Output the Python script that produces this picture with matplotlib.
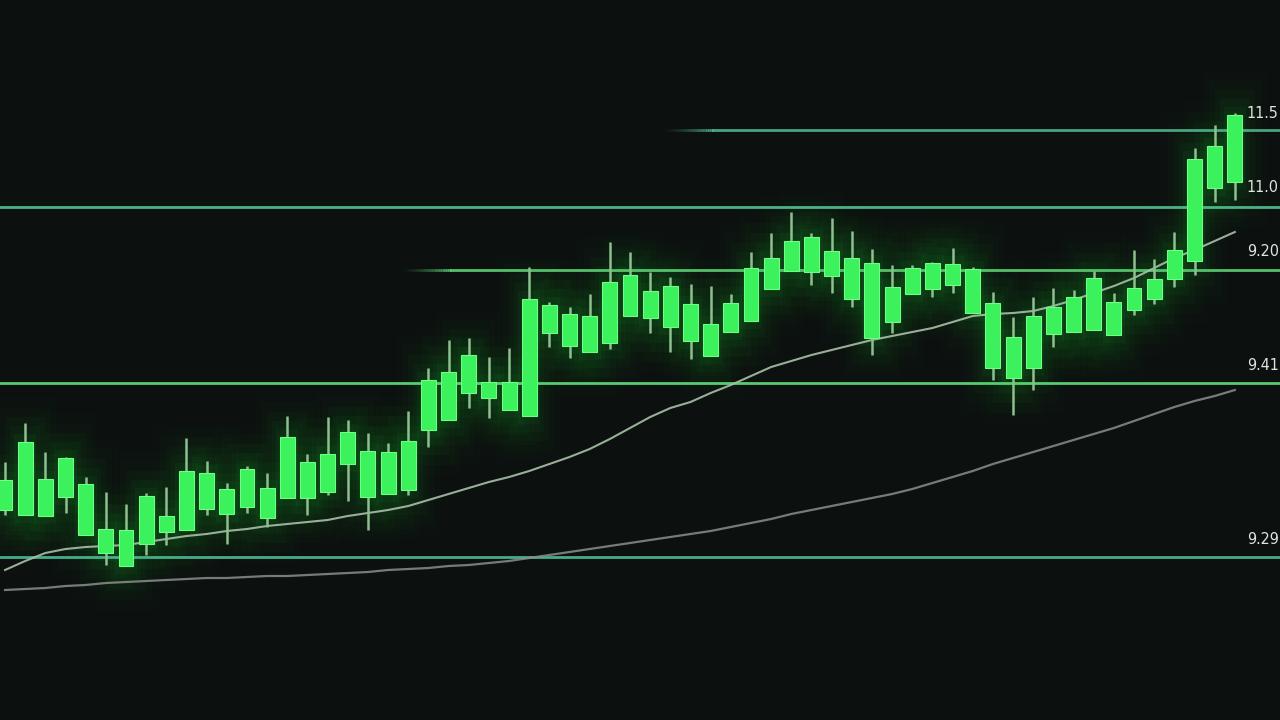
import numpy as np
import matplotlib
matplotlib.use("Agg")
import matplotlib.pyplot as plt
from matplotlib.collections import LineCollection
from matplotlib.colors import to_rgba

# candle data (one bar per session, all bullish)
high = [8.38, 8.77, 8.48, 8.43, 8.23, 8.08, 7.96, 8.07, 8.13, 8.62,
        8.39, 8.17, 8.34, 8.27, 8.84, 8.46, 8.83, 8.80, 8.67, 8.57,
        8.89, 9.32, 9.60, 9.62, 9.43, 9.52, 10.33, 9.98, 9.93, 10.06,
        10.58, 10.48, 10.28, 10.23, 10.16, 10.14, 10.06, 10.48, 10.67, 10.88,
        10.67, 10.82, 10.69, 10.51, 10.35, 10.35, 10.38, 10.52, 10.33, 10.08,
        9.83, 10.03, 10.12, 10.10, 10.29, 10.07, 10.50, 10.41, 10.68, 11.52,
        11.75, 11.87]
close = [8.20, 8.58, 8.21, 8.42, 8.16, 7.71, 7.70, 8.04, 7.84, 8.29,
         8.27, 8.11, 8.31, 8.12, 8.63, 8.38, 8.46, 8.68, 8.49, 8.48,
         8.59, 9.20, 9.28, 9.45, 9.18, 9.18, 10.01, 9.95, 9.86, 9.84,
         10.18, 10.25, 10.09, 10.14, 9.96, 9.76, 9.97, 10.32, 10.42, 10.59,
         10.63, 10.49, 10.42, 10.37, 10.13, 10.32, 10.37, 10.36, 10.31, 9.97,
         9.63, 9.84, 9.93, 10.03, 10.22, 9.98, 10.12, 10.21, 10.50, 11.41,
         11.54, 11.85]
open_ = [7.90, 7.85, 7.84, 8.03, 7.65, 7.47, 7.34, 7.56, 7.68, 7.70,
         7.91, 7.86, 7.93, 7.82, 8.02, 8.02, 8.08, 8.36, 8.03, 8.06,
         8.10, 8.70, 8.80, 9.07, 9.02, 8.90, 8.84, 9.67, 9.54, 9.48,
         9.57, 9.84, 9.82, 9.73, 9.59, 9.44, 9.68, 9.79, 10.11, 10.29,
         10.28, 10.24, 10.01, 9.62, 9.78, 10.06, 10.11, 10.15, 9.87, 9.32,
         9.22, 9.32, 9.66, 9.68, 9.70, 9.65, 9.90, 10.01, 10.21, 10.39,
         11.12, 11.18]
low = [7.85, 7.85, 7.84, 7.87, 7.65, 7.35, 7.34, 7.45, 7.55, 7.70,
       7.85, 7.56, 7.87, 7.73, 8.02, 7.85, 8.05, 7.99, 7.70, 8.06,
       8.05, 8.53, 8.80, 8.92, 8.82, 8.90, 8.84, 9.53, 9.42, 9.48,
       9.51, 9.84, 9.67, 9.48, 9.41, 9.44, 9.68, 9.79, 10.11, 10.29,
       10.15, 10.07, 9.93, 9.45, 9.67, 10.06, 10.03, 10.07, 9.87, 9.20,
       8.85, 9.10, 9.53, 9.68, 9.70, 9.65, 9.85, 9.96, 10.13, 10.25,
       10.98, 11.00]

# moving averages
ma_fast = [7.30, 7.39, 7.47, 7.51, 7.53, 7.54, 7.55, 7.58, 7.61, 7.64,
           7.66, 7.69, 7.71, 7.74, 7.76, 7.78, 7.80, 7.84, 7.87, 7.90,
           7.94, 8.00, 8.06, 8.12, 8.18, 8.23, 8.29, 8.36, 8.43, 8.51,
           8.61, 8.72, 8.83, 8.92, 8.98, 9.07, 9.15, 9.24, 9.33, 9.39,
           9.45, 9.50, 9.55, 9.60, 9.64, 9.68, 9.72, 9.78, 9.84, 9.86,
           9.87, 9.89, 9.94, 10.00, 10.07, 10.14, 10.22, 10.32, 10.42, 10.50,
           10.59, 10.68]
ma_slow = [7.10, 7.11, 7.12, 7.14, 7.15, 7.17, 7.18, 7.19, 7.20, 7.21,
           7.22, 7.22, 7.23, 7.24, 7.24, 7.25, 7.26, 7.27, 7.28, 7.30,
           7.31, 7.32, 7.34, 7.35, 7.37, 7.39, 7.42, 7.45, 7.48, 7.51,
           7.54, 7.57, 7.60, 7.63, 7.66, 7.69, 7.73, 7.77, 7.81, 7.86,
           7.90, 7.94, 7.98, 8.02, 8.06, 8.11, 8.17, 8.23, 8.29, 8.36,
           8.42, 8.48, 8.54, 8.60, 8.66, 8.72, 8.79, 8.86, 8.93, 8.99,
           9.04, 9.10]

# horizontal levels: price, first bar where it is drawn, colour
level_price = [11.70, 10.93, 10.30, 9.17, 7.43]
level_start = [32.5, None, 19.5, None, None]
level_color = ['#4fb58c', '#52c493', '#5cd276', '#5fe07a', '#4dbd95']

# right side labels
label_text = ['11.5', '11.0', '9.20', '9.41', '9.29']
label_price = [11.87, 11.12, 10.48, 9.35, 7.60]

BG = '#0c100f'
BODY = '#3cf25c'
WICK = '#8cc08e'

fig = plt.figure(figsize=(12.8, 7.2), dpi=100, facecolor=BG)
ax = fig.add_axes([0, 0, 1, 1])
ax.set_facecolor(BG)
ax.set_xlim(-0.25, 63.24)
ax.set_ylim(5.8, 13.0)
ax.axis('off')

x = np.arange(len(close))
o = np.array(open_)
c = np.array(close)

# soft glow behind the candles
for w, pad, a in [(3.2, 0.45, 0.012), (2.6, 0.35, 0.016), (2.0, 0.25, 0.022),
                  (1.5, 0.16, 0.03), (1.1, 0.08, 0.04)]:
    ax.bar(x, c - o + 2 * pad, bottom=o - pad, width=w, color='#22ff44',
           alpha=a, linewidth=0, zorder=1)

# levels
for p, s, col in zip(level_price, level_start, level_color):
    if s is None:
        ax.axhline(p, color=col, lw=2.0, alpha=0.9, zorder=2)
    else:
        fade = np.linspace(s, s + 2.6, 30)
        segs = [[(fade[k], p), (fade[k + 1], p)] for k in range(len(fade) - 1)]
        rgba = [to_rgba(col, 0.9 * (k / (len(segs) - 1)) ** 1.5) for k in range(len(segs))]
        ax.add_collection(LineCollection(segs, colors=rgba, linewidths=2.0, zorder=2))
        ax.plot([s + 2.6, 63.5], [p, p], color=col, lw=2.0, alpha=0.9, zorder=2)

# moving averages
ax.plot(x, ma_slow, color='#8a8f8c', lw=1.6, alpha=0.85, zorder=3)
ax.plot(x, ma_fast, color='#a8c0a8', lw=1.5, alpha=0.9, zorder=3)

# candles
ax.vlines(x, low, high, color=WICK, lw=1.8, zorder=4)
ax.bar(x, c - o, bottom=o, width=0.74, color=BODY, edgecolor='#6dff85',
       linewidth=0.8, zorder=5)

for t, p in zip(label_text, label_price):
    ax.text(61.6, p, t, color='#dfe4e0', fontsize=11.5, va='center',
            ha='left', family='DejaVu Sans', fontstretch='condensed', zorder=6)

fig.savefig('out.png', dpi=100, facecolor=BG)
